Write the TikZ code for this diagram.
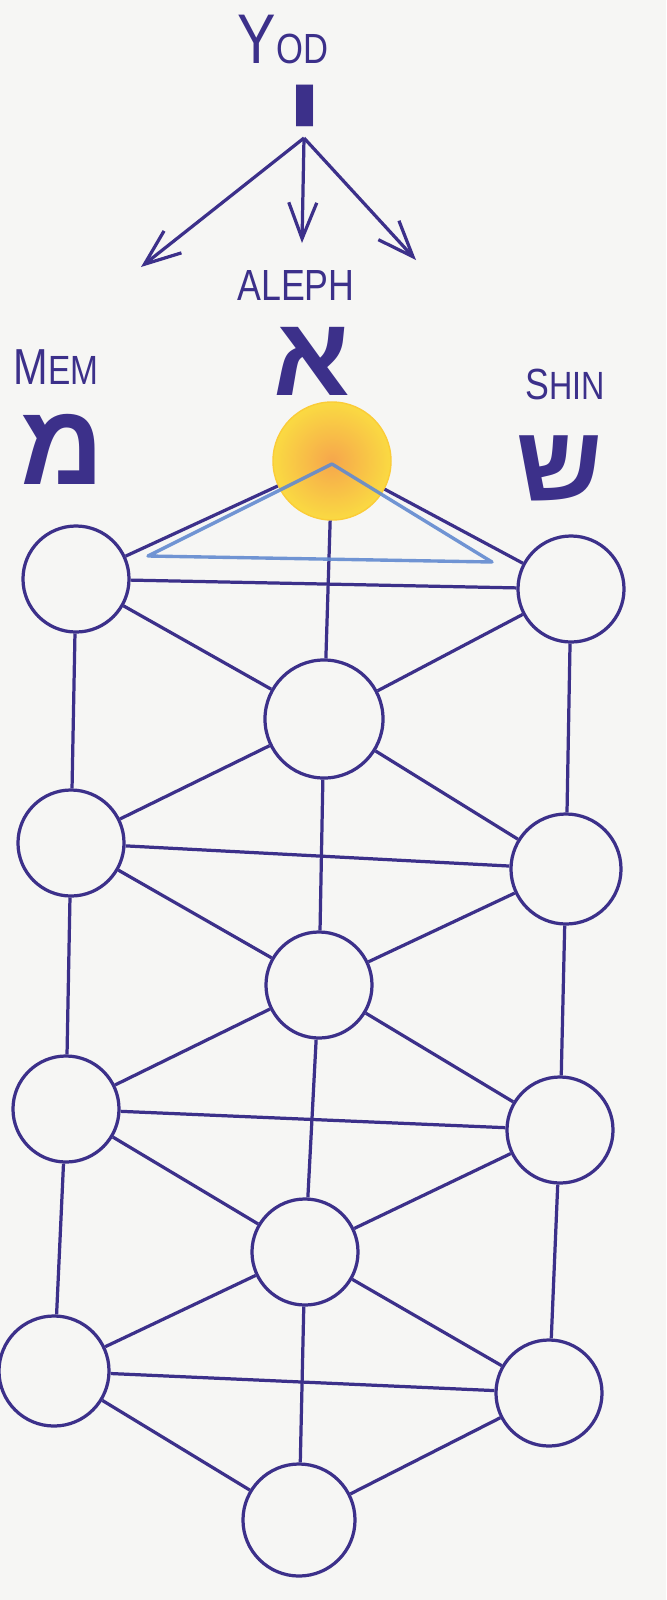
\documentclass[tikz,border=0pt]{standalone}
\usepackage{fontspec}
\usepackage{graphicx}
\setmainfont{Liberation Sans}
\newfontfamily\hebfont[Script=Hebrew]{Liberation Sans}
\TeXXeTstate=1
\usetikzlibrary{arrows.meta}
\definecolor{ink}{RGB}{60,48,138}
\definecolor{skyline}{RGB}{98,138,208}
\definecolor{sunyellow}{RGB}{250,218,66}
\definecolor{sunorange}{RGB}{246,166,76}
\definecolor{paper}{RGB}{246,246,244}
% hand lettered label: first letter, rest, sizes
\newcommand{\handword}[4]{\scalebox{0.82}[1]{\fontsize{#3}{#3}\selectfont #1\fontsize{#4}{#4}\selectfont #2}}
\newcommand{\hebletter}[2]{{\hebfont\bfseries\fontsize{#2}{#2}\selectfont\beginR #1\endR}}
\begin{document}
\begin{tikzpicture}[x=0.025cm, y=-0.025cm, every node/.style={inner sep=0pt},
  sefira/.style={circle, draw=ink, line width=2.3pt, minimum size=2.65cm},
  inkline/.style={ink, line width=2.3pt},
  yodarrow/.style={ink, line width=2.3pt, -{Straight Barb[length=9mm, width=7mm]}}]
\fill [paper] (0,0) rectangle (666,1600);
\useasboundingbox (0,0) rectangle (666,1600);
% labels
\node [ink] (yodname) at (283,40) {\handword{Y}{OD}{50}{30}};
\node [ink] (yodchar) at (305,124) {\hebletter{י}{92}};
\node [ink] (alephname) at (296,285) {\handword{A}{LEPH}{31}{31}};
\node [ink] (alephchar) at (312,361) {\hebletter{א}{80}};
\node [ink] (memname) at (56,367) {\handword{M}{EM}{36}{29}};
\node [ink] (memchar) at (62,449) {\hebletter{מ}{82}};
\node [ink] (shinname) at (565,384) {\handword{S}{HIN}{31}{28}};
\node [ink] (shinchar) at (560,468) {\hebletter{ש}{76}};
% yod arrows
\coordinate (yodtip) at (304,138);
\coordinate (fallleft) at (141,267);
\coordinate (fallmid) at (302,243);
\coordinate (fallright) at (416,260);
\draw [yodarrow] (yodtip) -- (fallleft);
\draw [yodarrow] (yodtip) -- (fallmid);
\draw [yodarrow] (yodtip) -- (fallright);
% sun
\node [circle, minimum size=2.95cm, inner color=sunorange, outer color=sunyellow,
  draw=sunyellow!85!orange, line width=1pt] (sun) at (332,461) {};
% sefirot
\node [sefira] (l1) at (76,579) {};
\node [sefira] (r1) at (571,589) {};
\node [sefira, minimum size=2.95cm] (c1) at (324,719) {};
\node [sefira] (l2) at (71,843) {};
\node [sefira, minimum size=2.75cm] (r2) at (566,869) {};
\node [sefira] (c2) at (319,985) {};
\node [sefira] (l3) at (66,1109) {};
\node [sefira] (r3) at (560,1130) {};
\node [sefira] (c3) at (305,1252) {};
\node [sefira, minimum size=2.75cm] (l4) at (54,1371) {};
\node [sefira] (r4) at (549,1393) {};
\node [sefira, minimum size=2.8cm] (c4) at (299,1520) {};
% paths
\draw [inkline] (sun) -- (l1);
\draw [inkline] (sun) -- (r1);
\draw [inkline] (sun) -- (c1);
\draw [inkline] (l1) -- (r1);
\draw [inkline] (l1) -- (c1);
\draw [inkline] (r1) -- (c1);
\draw [inkline] (l1) -- (l2);
\draw [inkline] (r1) -- (r2);
\draw [inkline] (c1) -- (l2);
\draw [inkline] (c1) -- (r2);
\draw [inkline] (c1) -- (c2);
\draw [inkline] (l2) -- (r2);
\draw [inkline] (l2) -- (c2);
\draw [inkline] (r2) -- (c2);
\draw [inkline] (l2) -- (l3);
\draw [inkline] (r2) -- (r3);
\draw [inkline] (c2) -- (l3);
\draw [inkline] (c2) -- (r3);
\draw [inkline] (c2) -- (c3);
\draw [inkline] (l3) -- (r3);
\draw [inkline] (l3) -- (c3);
\draw [inkline] (r3) -- (c3);
\draw [inkline] (l3) -- (l4);
\draw [inkline] (r3) -- (r4);
\draw [inkline] (c3) -- (l4);
\draw [inkline] (c3) -- (r4);
\draw [inkline] (c3) -- (c4);
\draw [inkline] (l4) -- (r4);
\draw [inkline] (l4) -- (c4);
\draw [inkline] (r4) -- (c4);
% blue triangle over the sun
\coordinate (apex) at (332,464);
\coordinate (baseleft) at (148,556);
\coordinate (baseright) at (492,562);
\draw [skyline, line width=2.4pt, line join=round, opacity=0.9] (apex) -- (baseleft) -- (baseright) -- cycle;
\end{tikzpicture}
\end{document}
